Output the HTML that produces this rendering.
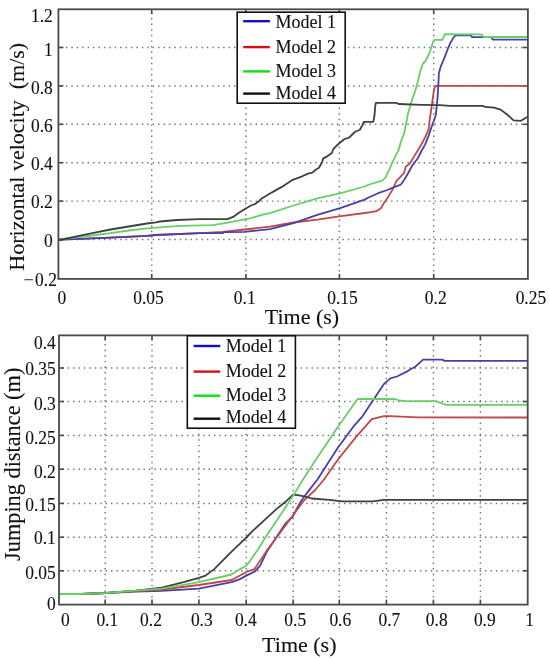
<!DOCTYPE html>
<html><head><meta charset="utf-8"><style>
html,body{margin:0;padding:0;background:#fff;}
svg{display:block;}
text{font-family:"Liberation Serif","Times New Roman",serif;fill:#111;stroke:#111;stroke-width:0.12px;}
.tl{font-size:18.2px;}
.lt{font-size:18px;}
.al{font-size:22px;}
.gd{stroke:#747474;stroke-width:1.45;stroke-dasharray:1.45 3.97;stroke-dashoffset:3.3;fill:none;}
.gv{stroke-dasharray:1.45 4.15;stroke-dashoffset:2.5;}
.gh2{stroke-dashoffset:2.2;}
.tk{stroke:#4a4a4a;stroke-width:1.6;}
.ax{stroke:#4a4a4a;stroke-width:1.8;fill:none;}
.cv{fill:none;stroke-width:1.8;stroke-linejoin:round;}
.lg{fill:#fff;stroke:#111;stroke-width:1.6;}
.ll{stroke-width:2.4;}
</style></head><body>
<svg width="550" height="659" viewBox="0 0 550 659">
<rect width="550" height="659" fill="#fff"/>
<line x1="151.7" y1="9.3" x2="151.7" y2="278.9" class="gd gv"/>
<line x1="245.9" y1="9.3" x2="245.9" y2="278.9" class="gd gv"/>
<line x1="339.4" y1="9.3" x2="339.4" y2="278.9" class="gd gv"/>
<line x1="433.7" y1="9.3" x2="433.7" y2="278.9" class="gd gv"/>
<line x1="58.4" y1="239.5" x2="527.9" y2="239.5" class="gd"/>
<line x1="58.4" y1="201.1" x2="527.9" y2="201.1" class="gd"/>
<line x1="58.4" y1="162.7" x2="527.9" y2="162.7" class="gd"/>
<line x1="58.4" y1="124.3" x2="527.9" y2="124.3" class="gd"/>
<line x1="58.4" y1="85.9" x2="527.9" y2="85.9" class="gd"/>
<line x1="58.4" y1="47.5" x2="527.9" y2="47.5" class="gd"/>
<line x1="151.7" y1="278.9" x2="151.7" y2="273.9" class="tk"/>
<line x1="151.7" y1="9.3" x2="151.7" y2="14.3" class="tk"/>
<line x1="245.9" y1="278.9" x2="245.9" y2="273.9" class="tk"/>
<line x1="245.9" y1="9.3" x2="245.9" y2="14.3" class="tk"/>
<line x1="339.4" y1="278.9" x2="339.4" y2="273.9" class="tk"/>
<line x1="339.4" y1="9.3" x2="339.4" y2="14.3" class="tk"/>
<line x1="433.7" y1="278.9" x2="433.7" y2="273.9" class="tk"/>
<line x1="433.7" y1="9.3" x2="433.7" y2="14.3" class="tk"/>
<line x1="58.4" y1="239.5" x2="63.4" y2="239.5" class="tk"/>
<line x1="527.9" y1="239.5" x2="522.9" y2="239.5" class="tk"/>
<line x1="58.4" y1="201.1" x2="63.4" y2="201.1" class="tk"/>
<line x1="527.9" y1="201.1" x2="522.9" y2="201.1" class="tk"/>
<line x1="58.4" y1="162.7" x2="63.4" y2="162.7" class="tk"/>
<line x1="527.9" y1="162.7" x2="522.9" y2="162.7" class="tk"/>
<line x1="58.4" y1="124.3" x2="63.4" y2="124.3" class="tk"/>
<line x1="527.9" y1="124.3" x2="522.9" y2="124.3" class="tk"/>
<line x1="58.4" y1="85.9" x2="63.4" y2="85.9" class="tk"/>
<line x1="527.9" y1="85.9" x2="522.9" y2="85.9" class="tk"/>
<line x1="58.4" y1="47.5" x2="63.4" y2="47.5" class="tk"/>
<line x1="527.9" y1="47.5" x2="522.9" y2="47.5" class="tk"/>
<polyline points="58.6,239.5 74.2,239.2 110.5,237.7 147.0,235.9 156.0,235.0 200.0,233.2 222.9,232.0 244.5,229.5 270.0,226.7 293.6,222.5 317.3,219.6 340.9,216.1 364.6,213.0 369.1,212.3 376.4,211.2 380.9,208.2 383.6,203.6 387.3,198.2 391.8,190.9 394.5,185.5 396.4,180.9 400.0,177.3 404.1,172.8 405.9,166.4 409.6,163.7 414.1,156.4 418.7,149.1 422.3,142.8 426.0,135.5 428.7,129.1 429.6,120.5 431.9,104.8 434.0,89.4 435.8,85.8 527.9,85.8" class="cv" stroke="#c04848"/>
<polyline points="58.6,239.5 74.2,239.2 110.5,237.7 147.0,235.9 156.0,235.0 200.0,233.2 222.9,233.2 223.5,232.2 244.5,231.9 270.0,229.1 293.6,223.2 317.3,214.9 340.9,207.8 364.6,199.6 369.1,197.3 378.2,193.2 387.3,190.0 393.6,187.3 396.4,186.4 400.9,184.5 404.1,180.0 407.8,173.7 412.3,165.5 417.8,158.3 421.4,151.0 425.1,144.6 428.7,135.5 431.4,127.3 434.2,120.0 435.8,115.2 437.6,97.1 438.6,80.0 438.8,73.5 440.9,66.1 444.1,58.6 447.3,50.2 450.5,42.7 453.6,37.4 455.8,35.4 471.0,35.0 472.0,37.2 491.0,37.2 493.0,39.6 527.9,39.7" class="cv" stroke="#4840a8"/>
<polyline points="58.6,239.5 74.2,237.7 92.4,235.5 110.5,233.2 128.7,230.5 146.9,228.3 156.0,227.7 180.0,225.8 212.7,225.2 228.0,222.6 238.2,220.7 250.9,218.2 263.6,214.4 270.0,213.2 293.6,205.5 317.3,198.4 340.9,193.2 364.6,186.5 369.1,184.5 378.2,181.8 382.7,180.5 385.5,177.3 389.4,169.4 395.8,155.2 398.6,150.1 401.4,140.0 404.1,133.7 406.8,120.0 407.9,114.0 411.3,102.3 416.5,86.8 420.3,71.3 422.9,63.5 425.5,61.0 429.4,53.2 433.2,41.6 434.5,39.8 442.3,39.8 444.8,34.2 482.0,34.4 483.5,37.0 527.9,37.0" class="cv" stroke="#66d066"/>
<polyline points="58.6,239.5 60.0,240.0 74.2,236.8 92.4,233.2 110.5,229.5 128.7,226.5 146.9,223.5 156.0,222.3 160.0,221.5 177.0,220.0 199.0,219.2 227.4,219.2 233.1,216.9 238.2,213.3 244.5,209.3 250.9,205.5 254.7,204.2 258.5,201.6 262.0,198.2 266.0,196.0 271.6,192.6 281.8,186.9 292.0,180.2 302.2,176.3 308.0,173.6 312.4,172.6 315.3,170.0 318.9,167.8 321.8,162.7 323.3,158.4 326.9,156.6 331.9,153.0 333.2,149.2 338.9,143.5 344.6,139.0 349.1,137.7 354.8,132.0 359.9,129.7 362.8,124.4 363.7,121.8 373.3,121.8 374.5,115.5 375.2,106.5 375.8,102.9 396.2,102.9 398.7,104.0 421.6,104.8 440.0,105.1 449.8,105.9 483.4,105.9 485.0,106.9 494.0,107.7 500.6,109.6 507.1,114.5 513.6,120.3 521.0,120.8 525.9,117.8 527.9,116.5" class="cv" stroke="#404040"/>
<rect x="58.4" y="9.3" width="469.5" height="269.6" class="ax"/>
<rect x="237.2" y="12.2" width="108.0" height="91.0" class="lg"/>
<line x1="243.2" y1="21.2" x2="269.9" y2="21.2" stroke="#1010c8" class="ll"/>
<text x="275.5" y="27.8" class="lt">Model 1</text>
<line x1="243.2" y1="47.1" x2="269.9" y2="47.1" stroke="#d81010" class="ll"/>
<text x="275.5" y="52.9" class="lt">Model 2</text>
<line x1="243.2" y1="71.4" x2="269.9" y2="71.4" stroke="#10e010" class="ll"/>
<text x="275.5" y="77.2" class="lt">Model 3</text>
<line x1="243.2" y1="93.6" x2="269.9" y2="93.6" stroke="#101010" class="ll"/>
<text x="275.5" y="98.7" class="lt">Model 4</text>
<text transform="translate(61.85,304) scale(0.96,1)" class="tl" text-anchor="middle">0</text>
<text transform="translate(148.50,304) scale(0.96,1)" class="tl" text-anchor="middle">0.05</text>
<text transform="translate(244.70,304) scale(0.96,1)" class="tl" text-anchor="middle">0.1</text>
<text transform="translate(342.50,304) scale(0.96,1)" class="tl" text-anchor="middle">0.15</text>
<text transform="translate(435.70,304) scale(0.96,1)" class="tl" text-anchor="middle">0.2</text>
<text transform="translate(530.90,304) scale(0.96,1)" class="tl" text-anchor="middle">0.25</text>
<text transform="translate(52.8,246.80) scale(0.96,1)" class="tl" text-anchor="end">0</text>
<text transform="translate(52.8,207.50) scale(0.96,1)" class="tl" text-anchor="end">0.2</text>
<text transform="translate(52.8,170.30) scale(0.96,1)" class="tl" text-anchor="end">0.4</text>
<text transform="translate(52.8,131.90) scale(0.96,1)" class="tl" text-anchor="end">0.6</text>
<text transform="translate(52.8,93.80) scale(0.96,1)" class="tl" text-anchor="end">0.8</text>
<text transform="translate(52.8,55.80) scale(0.96,1)" class="tl" text-anchor="end">1</text>
<text transform="translate(52.8,21.90) scale(0.96,1)" class="tl" text-anchor="end">1.2</text>
<text transform="translate(56.9,286.40) scale(0.96,1)" class="tl" text-anchor="end">−<tspan dx="1.5">0.2</tspan></text>
<text x="302" y="323.7" class="al" text-anchor="middle">Time (s)</text>
<text transform="translate(24.3,270.7) rotate(-90)" class="al">Horizontal velocity&#160; (m/s)</text>

<line x1="105.2" y1="335.4" x2="105.2" y2="604.6" class="gd gv"/>
<line x1="152.0" y1="335.4" x2="152.0" y2="604.6" class="gd gv"/>
<line x1="198.9" y1="335.4" x2="198.9" y2="604.6" class="gd gv"/>
<line x1="246.2" y1="335.4" x2="246.2" y2="604.6" class="gd gv"/>
<line x1="293.2" y1="335.4" x2="293.2" y2="604.6" class="gd gv"/>
<line x1="339.3" y1="335.4" x2="339.3" y2="604.6" class="gd gv"/>
<line x1="386.4" y1="335.4" x2="386.4" y2="604.6" class="gd gv"/>
<line x1="433.4" y1="335.4" x2="433.4" y2="604.6" class="gd gv"/>
<line x1="480.4" y1="335.4" x2="480.4" y2="604.6" class="gd gv"/>
<line x1="59.0" y1="570.8" x2="527.7" y2="570.8" class="gd gh2"/>
<line x1="59.0" y1="537.2" x2="527.7" y2="537.2" class="gd gh2"/>
<line x1="59.0" y1="503.4" x2="527.7" y2="503.4" class="gd gh2"/>
<line x1="59.0" y1="469.2" x2="527.7" y2="469.2" class="gd gh2"/>
<line x1="59.0" y1="435.4" x2="527.7" y2="435.4" class="gd gh2"/>
<line x1="59.0" y1="401.5" x2="527.7" y2="401.5" class="gd gh2"/>
<line x1="59.0" y1="368.0" x2="527.7" y2="368.0" class="gd gh2"/>
<line x1="105.2" y1="604.6" x2="105.2" y2="599.6" class="tk"/>
<line x1="105.2" y1="335.4" x2="105.2" y2="340.4" class="tk"/>
<line x1="152.0" y1="604.6" x2="152.0" y2="599.6" class="tk"/>
<line x1="152.0" y1="335.4" x2="152.0" y2="340.4" class="tk"/>
<line x1="198.9" y1="604.6" x2="198.9" y2="599.6" class="tk"/>
<line x1="198.9" y1="335.4" x2="198.9" y2="340.4" class="tk"/>
<line x1="246.2" y1="604.6" x2="246.2" y2="599.6" class="tk"/>
<line x1="246.2" y1="335.4" x2="246.2" y2="340.4" class="tk"/>
<line x1="293.2" y1="604.6" x2="293.2" y2="599.6" class="tk"/>
<line x1="293.2" y1="335.4" x2="293.2" y2="340.4" class="tk"/>
<line x1="339.3" y1="604.6" x2="339.3" y2="599.6" class="tk"/>
<line x1="339.3" y1="335.4" x2="339.3" y2="340.4" class="tk"/>
<line x1="386.4" y1="604.6" x2="386.4" y2="599.6" class="tk"/>
<line x1="386.4" y1="335.4" x2="386.4" y2="340.4" class="tk"/>
<line x1="433.4" y1="604.6" x2="433.4" y2="599.6" class="tk"/>
<line x1="433.4" y1="335.4" x2="433.4" y2="340.4" class="tk"/>
<line x1="480.4" y1="604.6" x2="480.4" y2="599.6" class="tk"/>
<line x1="480.4" y1="335.4" x2="480.4" y2="340.4" class="tk"/>
<line x1="59.0" y1="570.8" x2="64.0" y2="570.8" class="tk"/>
<line x1="527.7" y1="570.8" x2="522.7" y2="570.8" class="tk"/>
<line x1="59.0" y1="537.2" x2="64.0" y2="537.2" class="tk"/>
<line x1="527.7" y1="537.2" x2="522.7" y2="537.2" class="tk"/>
<line x1="59.0" y1="503.4" x2="64.0" y2="503.4" class="tk"/>
<line x1="527.7" y1="503.4" x2="522.7" y2="503.4" class="tk"/>
<line x1="59.0" y1="469.2" x2="64.0" y2="469.2" class="tk"/>
<line x1="527.7" y1="469.2" x2="522.7" y2="469.2" class="tk"/>
<line x1="59.0" y1="435.4" x2="64.0" y2="435.4" class="tk"/>
<line x1="527.7" y1="435.4" x2="522.7" y2="435.4" class="tk"/>
<line x1="59.0" y1="401.5" x2="64.0" y2="401.5" class="tk"/>
<line x1="527.7" y1="401.5" x2="522.7" y2="401.5" class="tk"/>
<line x1="59.0" y1="368.0" x2="64.0" y2="368.0" class="tk"/>
<line x1="527.7" y1="368.0" x2="522.7" y2="368.0" class="tk"/>
<polyline points="59.0,594.0 81.0,594.0 106.0,593.2 136.0,591.5 161.8,590.9 198.9,588.7 231.6,582.2 240.0,579.1 246.3,575.6 254.5,571.8 260.0,565.8 267.3,550.9 285.5,523.6 292.8,516.5 296.5,509.2 301.3,500.7 308.6,490.9 317.1,480.0 338.0,447.5 353.3,426.7 362.0,416.9 372.9,400.5 383.8,384.2 390.4,378.3 396.9,376.5 407.8,371.1 410.4,369.3 415.4,366.7 423.1,359.6 442.2,359.6 444.7,360.9 527.7,360.9" class="cv" stroke="#4840a8"/>
<polyline points="59.0,594.0 81.0,594.0 106.0,593.0 136.0,591.0 161.8,589.5 198.9,585.0 231.6,580.0 240.0,575.5 246.3,572.0 254.5,569.1 267.3,550.0 285.5,525.5 303.6,500.9 315.1,490.0 323.6,480.0 338.0,459.5 355.5,437.6 371.8,419.1 383.8,416.2 390.0,416.2 418.0,417.4 527.7,417.5" class="cv" stroke="#c04848"/>
<polyline points="59.0,594.0 81.0,594.0 106.0,593.0 136.0,590.6 161.8,587.6 183.6,582.2 198.9,577.8 205.5,575.6 214.2,569.1 231.6,551.6 240.0,543.6 246.3,537.5 252.7,530.9 265.5,519.1 276.4,509.1 285.5,501.8 292.7,494.9 296.4,494.9 305.5,496.7 311.8,498.5 329.3,499.8 342.4,501.4 372.9,501.4 383.8,499.8 527.7,499.8" class="cv" stroke="#404040"/>
<polyline points="59.0,594.0 81.0,594.0 106.0,593.0 136.0,590.6 161.8,588.7 198.9,582.2 231.6,574.5 240.0,569.1 246.3,565.8 248.5,563.0 258.2,549.0 267.3,534.5 276.4,520.9 285.5,507.3 294.5,493.6 302.7,480.0 316.2,459.2 338.0,426.7 357.6,399.0 394.7,399.0 399.1,400.5 405.3,401.1 435.8,401.1 446.0,404.9 527.7,404.9" class="cv" stroke="#66d066"/>
<rect x="59.0" y="335.4" width="468.7" height="269.2" class="ax"/>
<rect x="187.3" y="335.8" width="108.09999999999997" height="92.39999999999998" class="lg"/>
<line x1="193.6" y1="346.0" x2="220.3" y2="346.0" stroke="#1010c8" class="ll"/>
<text x="225.8" y="351.8" class="lt">Model 1</text>
<line x1="193.6" y1="371.6" x2="220.3" y2="371.6" stroke="#d81010" class="ll"/>
<text x="225.8" y="377.3" class="lt">Model 2</text>
<line x1="193.6" y1="395.7" x2="220.3" y2="395.7" stroke="#10e010" class="ll"/>
<text x="225.8" y="401.4" class="lt">Model 3</text>
<line x1="193.6" y1="418.7" x2="220.3" y2="418.7" stroke="#101010" class="ll"/>
<text x="225.8" y="423.4" class="lt">Model 4</text>
<text transform="translate(65.30,626.2) scale(0.96,1)" class="tl" text-anchor="middle">0</text>
<text transform="translate(107.30,626.2) scale(0.96,1)" class="tl" text-anchor="middle">0.1</text>
<text transform="translate(151.00,626.2) scale(0.96,1)" class="tl" text-anchor="middle">0.2</text>
<text transform="translate(201.80,626.2) scale(0.96,1)" class="tl" text-anchor="middle">0.3</text>
<text transform="translate(245.80,626.2) scale(0.96,1)" class="tl" text-anchor="middle">0.4</text>
<text transform="translate(295.20,626.2) scale(0.96,1)" class="tl" text-anchor="middle">0.5</text>
<text transform="translate(340.30,626.2) scale(0.96,1)" class="tl" text-anchor="middle">0.6</text>
<text transform="translate(389.40,626.2) scale(0.96,1)" class="tl" text-anchor="middle">0.7</text>
<text transform="translate(436.70,626.2) scale(0.96,1)" class="tl" text-anchor="middle">0.8</text>
<text transform="translate(484.80,626.2) scale(0.96,1)" class="tl" text-anchor="middle">0.9</text>
<text transform="translate(529.50,626.2) scale(0.96,1)" class="tl" text-anchor="middle">1</text>
<text transform="translate(55.8,610.40) scale(0.96,1)" class="tl" text-anchor="end">0</text>
<text transform="translate(55.8,579.30) scale(0.96,1)" class="tl" text-anchor="end">0.05</text>
<text transform="translate(55.8,544.10) scale(0.96,1)" class="tl" text-anchor="end">0.1</text>
<text transform="translate(55.8,511.20) scale(0.96,1)" class="tl" text-anchor="end">0.15</text>
<text transform="translate(55.8,478.00) scale(0.96,1)" class="tl" text-anchor="end">0.2</text>
<text transform="translate(55.8,443.60) scale(0.96,1)" class="tl" text-anchor="end">0.25</text>
<text transform="translate(55.8,410.20) scale(0.96,1)" class="tl" text-anchor="end">0.3</text>
<text transform="translate(55.8,375.35) scale(0.96,1)" class="tl" text-anchor="end">0.35</text>
<text transform="translate(55.8,349.10) scale(0.96,1)" class="tl" text-anchor="end">0.4</text>
<text x="299.3" y="652" class="al" text-anchor="middle">Time (s)</text>
<text transform="translate(20.4,560.9) rotate(-90)" class="al" style="font-size:22.3px">Jumping distance (m)</text>
</svg>
</body></html>
